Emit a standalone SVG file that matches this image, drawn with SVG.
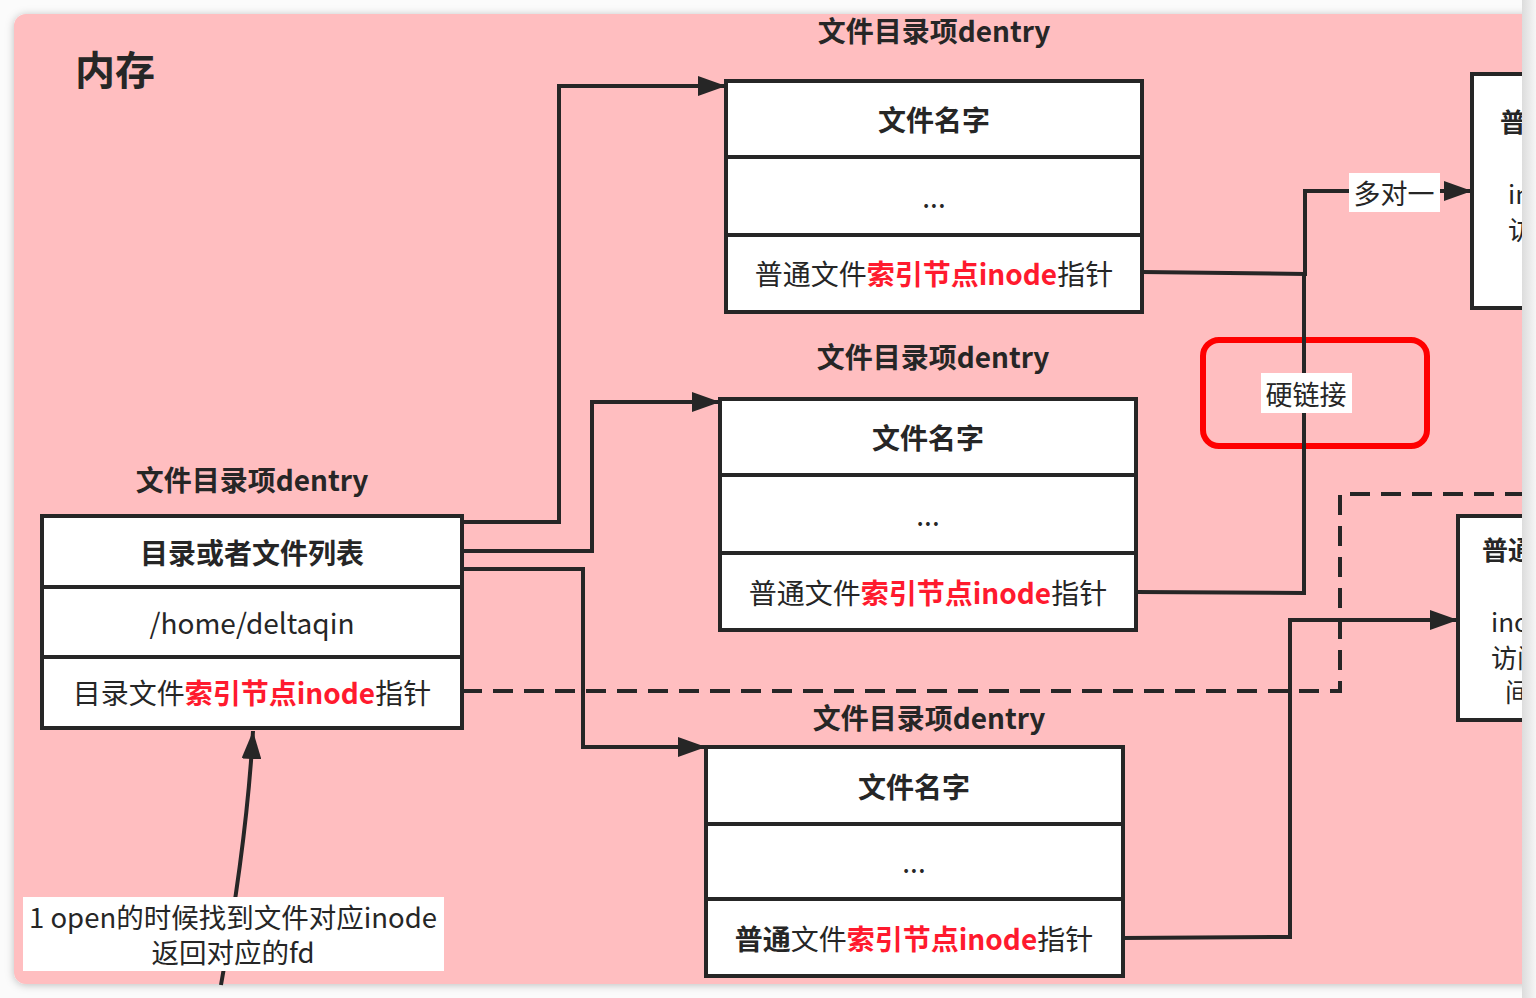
<svg xmlns="http://www.w3.org/2000/svg" width="1536" height="998" viewBox="0 0 1536 998">
<style>
text{font-family:"Noto Sans CJK SC","Liberation Sans",sans-serif;fill:#262626;dominant-baseline:central}
.box{fill:#fff;stroke:#262626;stroke-width:4}
.div{stroke:#262626;stroke-width:4}
.t{font-size:28px;text-anchor:middle}
.b{font-weight:bold}
.r{fill:#ff1a2e;font-weight:bold}
.conn{fill:none;stroke:#262626;stroke-width:4}
.lbl{fill:#fff}
.side{font-size:26px}
</style>
<defs>
<marker id="arr" markerUnits="userSpaceOnUse" markerWidth="28" markerHeight="20" refX="28" refY="10" orient="auto">
<path d="M0,0 L28,10 L0,20 z" fill="#262626"/>
</marker>
<filter id="sh" x="-5%" y="-5%" width="110%" height="110%">
<feDropShadow dx="0" dy="1" stdDeviation="4" flood-color="#000" flood-opacity="0.25"/>
</filter>
<clipPath id="clipR"><rect x="0" y="0" width="1522" height="998"/></clipPath>
<linearGradient id="edge" x1="0" x2="1" y1="0" y2="0">
<stop offset="0" stop-color="#dcdcdc"/><stop offset="1" stop-color="#f6f6f6"/>
</linearGradient>
</defs>
<rect width="1536" height="998" fill="#fbfbfb"/>
<rect x="14" y="14" width="1530" height="970" rx="12" fill="#ffbec0" filter="url(#sh)"/>
<text x="75" y="68" style="font-size:40px;font-weight:bold">内存</text>

<rect id="hardlink-box" x="1203" y="340" width="224" height="106" rx="16" fill="none" stroke="#ff0000" stroke-width="6"/>

<g id="connectors" clip-path="url(#clipR)">
<path class="conn" d="M462,522 H559 V86 H726" marker-end="url(#arr)"/>
<path class="conn" d="M462,551 H592 V402 H720" marker-end="url(#arr)"/>
<path class="conn" d="M462,569 H583 V747 H706" marker-end="url(#arr)"/>
<path class="conn" d="M462,691 H1340 V494 H1540" stroke-dasharray="20 11"/>
<path class="conn" d="M1142,272 L1305,274 V191 H1472" marker-end="url(#arr)"/>
<path class="conn" d="M1136,592 L1304,593 V274"/>
<path class="conn" d="M1123,938 L1290,937 V620 H1458" marker-end="url(#arr)"/>
<path class="conn" d="M221,985 Q247,840 253,731" marker-end="url(#arr)"/>
</g>

<g id="label-many-to-one">
<rect class="lbl" x="1349" y="173" width="91" height="39"/>
<text class="t" x="1394" y="192" style="font-size:27px">多对一</text>
</g>
<g id="label-hardlink">
<rect class="lbl" x="1261" y="373" width="91" height="40"/>
<text class="t" x="1306" y="393" style="font-size:27px">硬链接</text>
</g>
<g id="label-open">
<rect class="lbl" x="23" y="897" width="421" height="74"/>
<text class="t" x="233" y="916" style="font-size:27.5px">1 open的时候找到文件对应inode</text>
<text class="t" x="233" y="951" style="font-size:27.5px">返回对应的fd</text>
</g>

<g id="dentry-dir">
<text class="t b" x="252" y="479">文件目录项dentry</text>
<rect class="box" x="42" y="516" width="420" height="212"/>
<line class="div" x1="42" y1="587" x2="462" y2="587"/>
<line class="div" x1="42" y1="657" x2="462" y2="657"/>
<text class="t b" x="252" y="552">目录或者文件列表</text>
<text class="t" x="252" y="622">/home/deltaqin</text>
<text class="t" x="252" y="692">目录文件<tspan class="r">索引节点inode</tspan>指针</text>
</g>

<g id="dentry-top">
<text class="t b" x="934" y="30">文件目录项dentry</text>
<rect class="box" x="726" y="81" width="416" height="231"/>
<line class="div" x1="726" y1="157" x2="1142" y2="157"/>
<line class="div" x1="726" y1="235" x2="1142" y2="235"/>
<text class="t b" x="934" y="119">文件名字</text>
<text class="t" x="934" y="196">...</text>
<text class="t" x="934" y="273">普通文件<tspan class="r">索引节点inode</tspan>指针</text>
</g>

<g id="dentry-mid">
<text class="t b" x="933" y="356">文件目录项dentry</text>
<rect class="box" x="720" y="399" width="416" height="231"/>
<line class="div" x1="720" y1="475" x2="1136" y2="475"/>
<line class="div" x1="720" y1="553" x2="1136" y2="553"/>
<text class="t b" x="928" y="437">文件名字</text>
<text class="t" x="928" y="514">...</text>
<text class="t" x="928" y="592">普通文件<tspan class="r">索引节点inode</tspan>指针</text>
</g>

<g id="dentry-bottom">
<text class="t b" x="929" y="717">文件目录项dentry</text>
<rect class="box" x="706" y="747" width="417" height="229"/>
<line class="div" x1="706" y1="824" x2="1123" y2="824"/>
<line class="div" x1="706" y1="899" x2="1123" y2="899"/>
<text class="t b" x="914" y="786">文件名字</text>
<text class="t" x="914" y="861">...</text>
<text class="t" x="914" y="938"><tspan font-weight="bold">普通</tspan>文件<tspan class="r">索引节点inode</tspan>指针</text>
</g>

<g id="inode-top" clip-path="url(#clipR)">
<rect class="box" x="1472" y="74" width="120" height="234"/>
<text class="side" x="1500" y="120" font-weight="bold">普通文件</text>
<text class="side" x="1508" y="192">inode</text>
<text class="side" x="1508" y="228">访问时间</text>
</g>

<g id="inode-bottom" clip-path="url(#clipR)">
<rect class="box" x="1458" y="516" width="120" height="204"/>
<text class="side" x="1482" y="548" font-weight="bold">普通文件</text>
<text class="side" x="1491" y="620">inode</text>
<text class="side" x="1491" y="656">访问时</text>
<text class="side" x="1505" y="690">间</text>
</g>

<rect x="1522" y="0" width="14" height="998" fill="url(#edge)"/>
</svg>
